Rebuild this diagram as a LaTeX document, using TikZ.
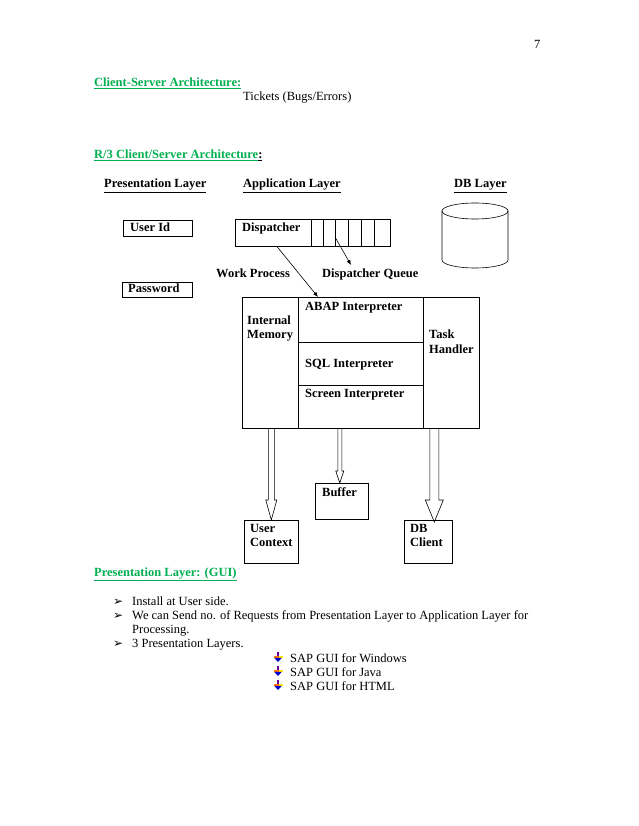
\documentclass[tikz,border=0pt]{standalone}
\usepackage{fontspec}
\setmainfont{Liberation Serif}
\newfontfamily\dvfont{DejaVu Sans}
\usetikzlibrary{calc,arrows.meta}
\definecolor{wgreen}{RGB}{0,176,80}
\newcommand\hollowarrow[5]{%
  \draw[thinline] let \p1=(#1), \p2=(#2) in
    ({\x2-#3pt},\y1) -- ({\x2-#3pt},{\y2+#5pt}) -- ({\x2-#4pt},{\y2+#5pt}) -- (\x2,\y2)
    -- ({\x2+#4pt},{\y2+#5pt}) -- ({\x2+#3pt},{\y2+#5pt}) -- ({\x2+#3pt},\y1);}
\newcommand\sapicon[2]{%
  \fill[violet!80!blue] (#1-0.9,#2-5.5) rectangle (#1+0.9,#2-1);
  \fill[orange!90!red] (#1-4.5,#2-1.2) rectangle (#1+0.5,#2+0.8);
  \fill[yellow!90!orange] (#1+0.5,#2-1.2) rectangle (#1+4.5,#2+0.8);
  \fill[blue!80!black] (#1-3.8,#2+0.8) -- (#1+3.8,#2+0.8) -- (#1,#2+5) -- cycle;}
\begin{document}
\begin{tikzpicture}[x=1pt,y=-1pt,
  every node/.style={font=\fontsize{12.5}{14.5}\selectfont},
  txt/.style={inner sep=0pt,anchor=base west},
  btxt/.style={txt,font=\fontsize{12.5}{14.5}\selectfont\bfseries},
  bul/.style={txt,font=\dvfont\fontsize{12}{14}\selectfont},
  boxnode/.style={draw,line width=0.6pt,inner sep=0pt,anchor=north west},
  thinline/.style={line width=0.6pt},
  ptr/.style={line width=0.6pt,-{Latex[length=5pt,width=4pt]}}]
\useasboundingbox[fill=white] (0,0) rectangle (638,826);

% page number and headings
\node[txt] (pg) at (534,49) {7};
\node[btxt,text=wgreen] (h1) at (94,87) {\underline{Client-Server Architecture:}};
\node[txt] (tk) at (243,101) {Tickets (Bugs/Errors)};
\node[btxt,text=wgreen] (h2) at (94,159) {\underline{R/3 Client/Server Architecture}\textcolor{black}{\underline{:}}};
\node[btxt] (lp) at (104,188) {\underline{Presentation Layer}};
\node[btxt] (la) at (243,188) {\underline{Application Layer}};
\node[btxt] (ld) at (454,188) {\underline{DB Layer}};

% presentation boxes
\node[boxnode,minimum width=69pt,minimum height=16pt] (uid) at (123,220) {};
\node[btxt] (uidt) at (130,231) {User Id};
\node[boxnode,minimum width=70pt,minimum height=15pt] (pwd) at (122,282) {};
\node[btxt] (pwdt) at (128,292) {Password};

% dispatcher and queue
\node[boxnode,minimum width=76pt,minimum height=27pt] (disp) at (235,219) {};
\node[btxt] (dispt) at (242,231) {Dispatcher};
\node[boxnode,minimum width=12pt,minimum height=27pt] (q1) at (311,219) {};
\node[boxnode,minimum width=12pt,minimum height=27pt] (q2) at (323,219) {};
\node[boxnode,minimum width=13pt,minimum height=27pt] (q3) at (335,219) {};
\node[boxnode,minimum width=13pt,minimum height=27pt] (q4) at (348,219) {};
\node[boxnode,minimum width=13pt,minimum height=27pt] (q5) at (361,219) {};
\node[boxnode,minimum width=16pt,minimum height=27pt] (q6) at (374,219) {};

% DB cylinder
\draw[thinline] (442,211) -- (442,260) arc[start angle=180,end angle=0,x radius=33,y radius=8] -- (508,211);
\draw[thinline] (475,211) ellipse[x radius=33,y radius=8];

% work process area
\node[btxt] (wp) at (216,277) {Work Process};
\node[btxt] (dq) at (322,277) {Dispatcher Queue};

% big box
\node[boxnode,minimum width=56pt,minimum height=131pt] (im) at (242,297) {};
\node[boxnode,minimum width=125pt,minimum height=45pt] (abap) at (298,297) {};
\node[boxnode,minimum width=125pt,minimum height=43pt] (sql) at (298,342) {};
\node[boxnode,minimum width=125pt,minimum height=43pt] (scr) at (298,385) {};
\node[boxnode,minimum width=56pt,minimum height=131pt] (th) at (423,297) {};
\node[btxt] (abapt) at (305,310) {ABAP Interpreter};
\node[btxt] (imt1) at (247,324) {Internal};
\node[btxt] (imt2) at (247,338) {Memory};
\node[btxt] (tht1) at (429,338) {Task};
\node[btxt] (tht2) at (429,353) {Handler};
\node[btxt] (sqlt) at (305,367) {SQL Interpreter};
\node[btxt] (scrt) at (305,397) {Screen Interpreter};

% pointer arrows
\coordinate (qs) at (335,237);
\coordinate (qe) at (351,265);
\draw[ptr] (disp.south -| 277,0) -- (abap.north -| 318,0);
\draw[ptr] (qs) -- (qe);

% lower boxes
\node[boxnode,minimum width=53pt,minimum height=36pt] (buf) at (315,483) {};
\node[btxt] (buft) at (322,496) {Buffer};
\node[boxnode,minimum width=54pt,minimum height=43pt] (uc) at (244,520) {};
\node[btxt] (uct1) at (250,532) {User};
\node[btxt] (uct2) at (250,546) {Context};
\node[boxnode,minimum width=48pt,minimum height=43pt] (dbc) at (404,520) {};
\node[btxt] (dbct1) at (410,532) {DB};
\node[btxt] (dbct2) at (410,546) {Client};

% hollow arrows
\coordinate (t1) at (uc.north);
\coordinate (t2) at ($(buf.north)+(-2,0)$);
\coordinate (t3) at ($(dbc.north)+(6,2)$);
\hollowarrow{im.south}{t1}{3}{5.5}{20}
\hollowarrow{scr.south}{t2}{2}{4}{12}
\hollowarrow{th.south}{t3}{4.5}{9}{22}

% presentation layer section
\node[btxt,text=wgreen] (h3) at (94,576) {\underline{Presentation Layer: (GUI)}};
\node[bul] (b1) at (113,605) {➢};
\node[txt] (b1t) at (132,605) {Install at User side.};
\node[bul] (b2) at (113,619) {➢};
\node[txt] (b2t) at (132,619) {We can Send no. of Requests from Presentation Layer to Application Layer for};
\node[txt] (b2u) at (132,633) {Processing.};
\node[bul] (b3) at (113,647) {➢};
\node[txt] (b3t) at (132,647) {3 Presentation Layers.};
\sapicon{278}{657}
\node[txt] (s1) at (290,662) {SAP GUI for Windows};
\sapicon{278}{671}
\node[txt] (s2) at (290,676) {SAP GUI for Java};
\sapicon{278}{685}
\node[txt] (s3) at (290,690) {SAP GUI for HTML};
\end{tikzpicture}
\end{document}
